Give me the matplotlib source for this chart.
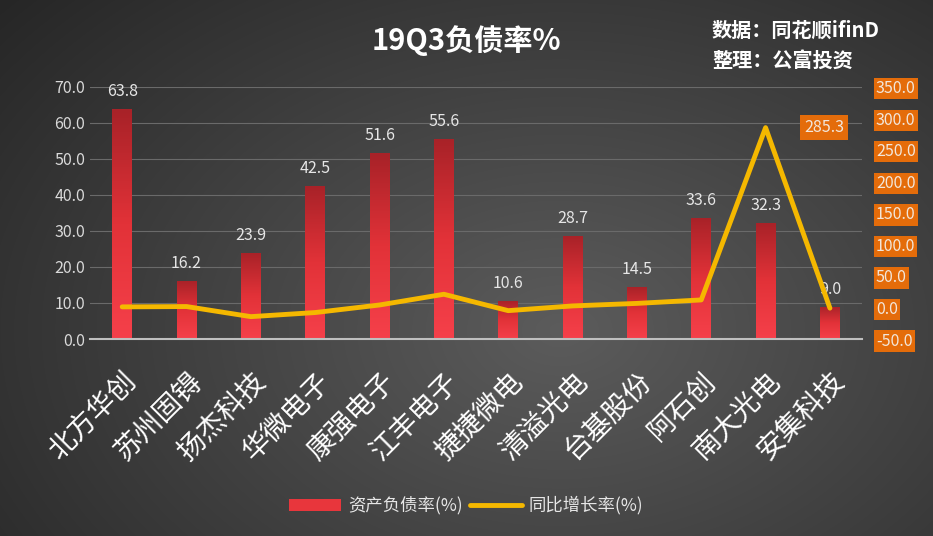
import numpy as np
import matplotlib
matplotlib.use("Agg")
from matplotlib import pyplot as plt

plt.rcParams['font.family'] = ['Noto Sans CJK SC', 'DejaVu Sans']

companies = ['北方华创', '苏州固锝', '扬杰科技', '华微电子', '康强电子', '江丰电子',
             '捷捷微电', '清溢光电', '台基股份', '阿石创', '南大光电', '安集科技']
debt_ratio = [63.8, 16.2, 23.9, 42.5, 51.6, 55.6, 10.6, 28.7, 14.5, 33.6, 32.3, 9.0]
yoy_growth = [1.0, 1.5, -14.5, -8.0, 4.0, 21.0, -5.0, 2.5, 6.5, 12.0, 285.3, -1.0]
left_ticks = np.arange(0, 71, 10)
right_ticks = np.arange(-50, 351, 50)

fig = plt.figure(figsize=(9.33, 5.36), dpi=100)

# radial gradient background
bg = fig.add_axes([0, 0, 1, 1])
yy, xx = np.mgrid[0:536, 0:933]
r = np.sqrt(((xx - 560) / 700.0) ** 2 + ((yy - 330) / 480.0) ** 2)
shade = np.clip(0.36 - 0.2 * r, 0.15, 0.36)
bg.imshow(np.dstack([shade, shade, shade]), aspect='auto', extent=[0, 1, 0, 1])
bg.set_axis_off()

ax = fig.add_axes([0.0965, 0.3675, 0.8275, 0.4705])
ax.patch.set_alpha(0)
x = np.arange(len(companies))

bars = ax.bar(x, debt_ratio, width=0.31, color='#e8363c', zorder=2)
grad = np.linspace(0, 1, 100).reshape(-1, 1)
cmap = matplotlib.colors.LinearSegmentedColormap.from_list('redgrad', ['#f5404a', '#e23238', '#a82228'])
for b in bars:
    x0, w, h = b.get_x(), b.get_width(), b.get_height()
    im = ax.imshow(grad, cmap=cmap, aspect='auto', extent=[x0, x0 + w, 0, h],
                   origin='lower', zorder=2)
    im.set_clip_path(b)
for xi, v in zip(x, debt_ratio):
    ax.text(xi, v + 2.5, f'{v:.1f}', ha='center', va='bottom', color='#e6e6e6', fontsize=11.5)

ax.set_xlim(-0.5, len(companies) - 0.5)
ax.set_ylim(0, 70)
ax.set_yticks(left_ticks)
ax.set_yticklabels([f'{t:.1f}' for t in left_ticks], color='#d9d9d9', fontsize=11.5)
ax.grid(axis='y', color='#6a6a6a', linewidth=0.8, zorder=0)
ax.set_axisbelow(True)
for s in ['top', 'right', 'left']:
    ax.spines[s].set_visible(False)
ax.spines['bottom'].set_color('#bfbfbf')
ax.spines['bottom'].set_linewidth(1.5)
ax.tick_params(axis='both', length=0)
ax.set_xticks(x)
ax.set_xticklabels(companies, rotation=45, ha='right', va='top', rotation_mode='anchor',
                   color='white', fontsize=20)
ax.tick_params(axis='x', pad=20)

ax2 = ax.twinx()
ax2.set_ylim(-50, 350)
line, = ax2.plot(x, yoy_growth, color='#f5b800', linewidth=3.5, zorder=3, solid_capstyle='round')
ax2.set_yticks(right_ticks)
ax2.set_yticklabels([f'{t:.1f}' for t in right_ticks], fontsize=11.5)
for lbl in ax2.get_yticklabels():
    lbl.set_color('#f2e6da')
    lbl.set_bbox(dict(facecolor='#e46c0a', edgecolor='none', pad=1.5))
ax2.tick_params(axis='y', length=0, pad=10)
for s in ax2.spines.values():
    s.set_visible(False)
ax2.text(10.6, 285.3, '285.3', ha='left', va='center', color='#f2e6da', fontsize=11.5,
         bbox=dict(facecolor='#e46c0a', edgecolor='none', pad=3))

fig.text(0.5, 0.925, '19Q3负债率%', ha='center', va='center', color='white',
         fontsize=21, fontweight='bold')
fig.text(0.763, 0.944, '数据：同花顺ifinD', ha='left', va='center', color='white',
         fontsize=14.5, fontweight='bold')
fig.text(0.763, 0.887, '整理：公富投资', ha='left', va='center', color='white',
         fontsize=14.5, fontweight='bold')

leg = fig.legend([bars, line], ['资产负债率(%)', '同比增长率(%)'], loc='center',
                 bbox_to_anchor=(0.5, 0.057), ncol=2, frameon=False, fontsize=12.5,
                 labelcolor='#e6e6e6', handlelength=3.0, columnspacing=0.4, handletextpad=0.4)

fig.savefig('out.png', dpi=100)
